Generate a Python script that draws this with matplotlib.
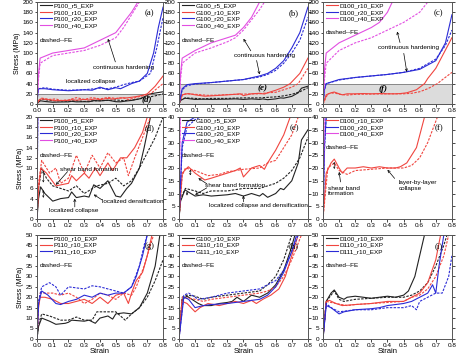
import matplotlib
matplotlib.use('Agg')
import matplotlib.pyplot as plt
from matplotlib.patches import Rectangle

# ---- P100 series (panels a, d) ----
p_r5_x = [0, 0.01, 0.023, 0.05, 0.1, 0.15, 0.2, 0.22, 0.25, 0.3, 0.33, 0.36, 0.4, 0.45, 0.5, 0.53, 0.57, 0.6, 0.65, 0.68, 0.72, 0.76, 0.8]
p_r5_y = [0, 4, 6.3, 5, 3.5, 4, 4.2, 5.3, 4.2, 4.5, 4.3, 6.7, 6, 7.5, 4.5, 4.3, 6, 7, 10, 14, 20, 22, 24]
p_r5_fe_x = [0, 0.01, 0.03, 0.06, 0.1, 0.15, 0.2, 0.25, 0.3, 0.38, 0.45, 0.5, 0.55, 0.6, 0.65, 0.7, 0.75, 0.8]
p_r5_fe_y = [0, 6, 10, 8, 6.5, 6, 5.5, 6.5, 5, 6.5, 7, 8, 6.5, 7.5, 10, 13, 16, 20]
p_r10_x = [0, 0.01, 0.025, 0.06, 0.12, 0.2, 0.22, 0.25, 0.3, 0.33, 0.37, 0.4, 0.45, 0.48, 0.53, 0.57, 0.62, 0.67, 0.7, 0.75, 0.8]
p_r10_y = [0, 6, 10, 9, 6.5, 7, 8.5, 7.5, 9, 8, 10, 8.5, 11, 9.5, 12, 12, 14, 17, 20, 35, 55]
p_r10_fe_x = [0, 0.01, 0.03, 0.08, 0.12, 0.15, 0.2, 0.25, 0.3, 0.35, 0.4, 0.45, 0.5, 0.55, 0.58, 0.62, 0.67, 0.72, 0.76, 0.8]
p_r10_fe_y = [0, 7, 11.5, 9, 10, 7, 8, 12.5, 9, 12.5, 10, 13, 11, 12, 8.5, 12, 16, 20, 30, 40]
p_r20_x = [0, 0.005, 0.01, 0.05, 0.1, 0.2, 0.3, 0.35, 0.4, 0.45, 0.5, 0.53, 0.6, 0.65, 0.7, 0.74, 0.77, 0.8]
p_r20_y = [0, 20, 30, 30, 28, 26, 28, 27, 33, 28, 32, 30, 40, 45, 60, 100, 150, 190]
p_r20_fe_x = [0, 0.005, 0.01, 0.05, 0.1, 0.2, 0.3, 0.4, 0.45, 0.5, 0.55, 0.6, 0.65, 0.72, 0.76, 0.8]
p_r20_fe_y = [0, 20, 30, 32, 29, 27, 28, 31, 30, 33, 38, 42, 45, 60, 110, 170]
p_r40_x = [0, 0.01, 0.02, 0.1, 0.2, 0.3, 0.4, 0.5, 0.55, 0.6, 0.64]
p_r40_y = [0, 60, 90, 100, 105, 110, 125, 140, 160, 180, 200]
p_r40_fe_x = [0, 0.01, 0.02, 0.1, 0.2, 0.3, 0.4, 0.5, 0.55, 0.6, 0.65]
p_r40_fe_y = [0, 50, 80, 95, 100, 105, 115, 130, 150, 175, 200]

# ---- G100 series (panels b, e) ----
g_r5_x = [0, 0.01, 0.037, 0.1, 0.15, 0.2, 0.3, 0.35, 0.4, 0.45, 0.5, 0.52, 0.55, 0.6, 0.63, 0.65, 0.7, 0.74, 0.76, 0.8]
g_r5_y = [0, 7, 11.4, 9, 9.5, 9, 9.5, 10, 9, 10, 9, 10, 8.5, 10, 12, 11.5, 15, 22, 31, 35]
g_r5_fe_x = [0, 0.01, 0.04, 0.1, 0.15, 0.2, 0.3, 0.4, 0.5, 0.55, 0.6, 0.65, 0.7, 0.75, 0.8]
g_r5_fe_y = [0, 8, 12, 11, 10, 11, 11, 12, 12, 13, 14, 16, 19, 24, 32]
g_r10_x = [0, 0.02, 0.058, 0.1, 0.16, 0.2, 0.3, 0.35, 0.38, 0.4, 0.45, 0.5, 0.53, 0.55, 0.6, 0.65, 0.69, 0.75, 0.8]
g_r10_y = [0, 18, 20.5, 18, 15.3, 16, 18, 19, 20, 16.5, 20, 21, 19.5, 22, 27, 33, 40, 60, 90]
g_r10_fe_x = [0, 0.02, 0.04, 0.1, 0.18, 0.25, 0.3, 0.4, 0.5, 0.55, 0.6, 0.65, 0.7, 0.74, 0.8]
g_r10_fe_y = [0, 17, 20, 19, 17, 17.5, 18.5, 19.5, 20, 22, 23, 28, 33, 40, 70]
g_r20_x = [0, 0.02, 0.05, 0.1, 0.2, 0.3, 0.4, 0.5, 0.55, 0.6, 0.65, 0.7, 0.75, 0.8]
g_r20_y = [0, 30, 38, 40, 42, 45, 48, 55, 60, 70, 85, 110, 140, 190]
g_r20_fe_x = [0, 0.02, 0.05, 0.1, 0.2, 0.3, 0.4, 0.5, 0.55, 0.6, 0.65, 0.7, 0.75, 0.8]
g_r20_fe_y = [0, 28, 36, 39, 42, 45, 48, 53, 58, 66, 80, 100, 125, 170]
g_r40_x = [0, 0.01, 0.02, 0.1, 0.2, 0.3, 0.35, 0.4, 0.45, 0.5]
g_r40_y = [0, 60, 90, 105, 120, 130, 135, 150, 170, 200]
g_r40_fe_x = [0, 0.01, 0.02, 0.1, 0.2, 0.3, 0.35, 0.4, 0.45, 0.5, 0.53]
g_r40_fe_y = [0, 50, 80, 100, 110, 122, 130, 145, 165, 185, 200]

# ---- D100 series (panels c, f) ----
d_r10_x = [0, 0.02, 0.05, 0.07, 0.1, 0.12, 0.15, 0.2, 0.25, 0.3, 0.35, 0.4, 0.45, 0.48, 0.52, 0.58, 0.63, 0.65, 0.7, 0.75, 0.8]
d_r10_y = [0, 18, 22, 23.5, 20, 18, 20, 20, 20.5, 20, 20.5, 20, 20, 20.5, 22, 28, 40, 50, 70, 100, 130]
d_r10_fe_x = [0, 0.03, 0.07, 0.1, 0.15, 0.2, 0.3, 0.4, 0.5, 0.55, 0.6, 0.65, 0.71, 0.75, 0.8]
d_r10_fe_y = [0, 20, 22, 19, 17.5, 19, 19.5, 20, 20, 21, 24, 30, 40, 50, 62]
d_r20_x = [0, 0.01, 0.02, 0.1, 0.2, 0.3, 0.4, 0.5, 0.6, 0.7, 0.76, 0.8]
d_r20_y = [0, 30, 40, 48, 52, 55, 58, 62, 68, 85, 120, 175]
d_r20_fe_x = [0, 0.01, 0.02, 0.1, 0.2, 0.3, 0.4, 0.5, 0.6, 0.7, 0.76, 0.8]
d_r20_fe_y = [0, 28, 40, 47, 52, 55, 58, 62, 70, 88, 115, 145]
d_r40_x = [0, 0.01, 0.02, 0.1, 0.2, 0.3, 0.35, 0.4, 0.43]
d_r40_y = [0, 70, 100, 120, 135, 150, 160, 180, 200]
d_r40_fe_x = [0, 0.01, 0.02, 0.1, 0.2, 0.3, 0.4, 0.5, 0.6, 0.65]
d_r40_fe_y = [0, 50, 80, 105, 120, 130, 145, 160, 180, 200]

# ---- orientation series, r10 (panels g, h, i) ----
p100_x = [0, 0.01, 0.03, 0.08, 0.12, 0.18, 0.2, 0.22, 0.3, 0.33, 0.37, 0.4, 0.45, 0.48, 0.5, 0.55, 0.6, 0.65, 0.7, 0.75, 0.78]
p100_y = [0, 6, 10, 8.5, 7, 7.5, 8, 9, 8.5, 9, 7.5, 10, 11, 9.5, 12, 12.5, 12, 15, 22, 35, 50]
p100_fe_x = [0, 0.01, 0.03, 0.08, 0.15, 0.2, 0.25, 0.3, 0.35, 0.38, 0.45, 0.5, 0.56, 0.6, 0.65, 0.7, 0.75, 0.8]
p100_fe_y = [0, 7, 12, 11, 9, 9, 10.5, 9, 9, 13, 13, 13, 9, 12, 15, 20, 28, 38]
p110_x = [0, 0.01, 0.02, 0.05, 0.1, 0.15, 0.2, 0.25, 0.3, 0.35, 0.4, 0.45, 0.5, 0.55, 0.58, 0.6, 0.63, 0.67, 0.7, 0.73]
p110_y = [0, 15, 20, 20, 19, 17, 17, 18, 19, 17, 20, 17, 21, 22, 17, 22, 28, 32, 40, 50]
p110_fe_x = [0, 0.01, 0.02, 0.1, 0.15, 0.2, 0.25, 0.3, 0.35, 0.4, 0.45, 0.5, 0.55, 0.6, 0.63, 0.68, 0.72, 0.74]
p110_fe_y = [0, 16, 22, 22, 21, 22, 20, 17, 19, 22, 21, 19, 22, 21, 25, 35, 45, 50]
p111_x = [0, 0.01, 0.03, 0.07, 0.12, 0.15, 0.2, 0.25, 0.3, 0.35, 0.4, 0.45, 0.5, 0.55, 0.6, 0.63, 0.67, 0.7]
p111_y = [0, 17, 23, 21, 17, 16.5, 18, 19, 21, 20, 22, 21, 22, 22, 25, 30, 40, 50]
p111_fe_x = [0, 0.01, 0.03, 0.08, 0.12, 0.15, 0.2, 0.3, 0.35, 0.4, 0.45, 0.5, 0.55, 0.6, 0.65, 0.68, 0.7]
p111_fe_y = [0, 18, 25, 27, 25, 21, 25, 24, 25.5, 25, 24, 23, 22, 25, 35, 45, 50]

g100_x = [0, 0.02, 0.05, 0.08, 0.12, 0.15, 0.2, 0.25, 0.3, 0.33, 0.36, 0.4, 0.45, 0.5, 0.55, 0.6, 0.65, 0.69, 0.72]
g100_y = [0, 19, 20.5, 19, 17, 16, 16, 17, 17.5, 18, 20, 18, 21, 20, 22, 26, 33, 42, 50]
g100_fe_x = [0, 0.02, 0.05, 0.1, 0.15, 0.2, 0.3, 0.4, 0.5, 0.55, 0.6, 0.65, 0.7]
g100_fe_y = [0, 20, 21, 20.5, 19, 20, 21, 22, 23, 26, 30, 38, 50]
g110_x = [0, 0.02, 0.05, 0.1, 0.13, 0.18, 0.25, 0.3, 0.35, 0.4, 0.45, 0.48, 0.52, 0.57, 0.62, 0.66, 0.7, 0.74]
g110_y = [0, 18, 17, 13, 15, 17, 16, 17, 18, 17, 18.5, 17, 19, 21, 24, 30, 40, 50]
g110_fe_x = [0, 0.02, 0.1, 0.15, 0.2, 0.3, 0.4, 0.5, 0.55, 0.6, 0.65, 0.7, 0.76]
g110_fe_y = [0, 20, 19, 18, 19, 20, 21, 22, 23, 25, 30, 38, 50]
g111_x = [0, 0.03, 0.06, 0.1, 0.15, 0.2, 0.3, 0.4, 0.5, 0.55, 0.6, 0.65, 0.7, 0.73]
g111_y = [0, 20, 19, 15, 16, 16.5, 17, 18, 19, 21, 25, 32, 42, 50]
g111_fe_x = [0, 0.03, 0.06, 0.12, 0.2, 0.3, 0.4, 0.5, 0.55, 0.6, 0.65, 0.7, 0.74]
g111_fe_y = [0, 21, 22, 19, 20, 22, 23, 24, 26, 28, 33, 42, 50]

d100_x = [0, 0.02, 0.05, 0.07, 0.1, 0.13, 0.15, 0.2, 0.25, 0.3, 0.35, 0.4, 0.45, 0.5, 0.53, 0.57, 0.6, 0.63]
d100_y = [0, 18, 22, 23.5, 20, 19, 20, 20.5, 20, 19.5, 20, 20.5, 20, 21, 23, 30, 40, 50]
d100_fe_x = [0, 0.02, 0.05, 0.07, 0.1, 0.13, 0.2, 0.3, 0.4, 0.5, 0.55, 0.6, 0.65, 0.7, 0.75, 0.77]
d100_fe_y = [0, 18, 21, 23, 19, 18, 19, 19.5, 20, 20, 21, 23, 27, 35, 45, 50]
d110_x = [0, 0.02, 0.04, 0.08, 0.12, 0.2, 0.3, 0.4, 0.5, 0.55, 0.6, 0.65, 0.7, 0.73]
d110_y = [0, 18, 18.5, 17, 16, 16.5, 17, 18, 18, 20, 22, 27, 38, 50]
d110_fe_x = [0, 0.02, 0.08, 0.15, 0.2, 0.3, 0.4, 0.5, 0.55, 0.6, 0.65, 0.7, 0.75, 0.78]
d110_fe_y = [0, 18, 17, 16, 16.5, 17, 17.5, 18, 20, 21, 24, 30, 40, 50]
d111_x = [0, 0.02, 0.05, 0.1, 0.13, 0.2, 0.3, 0.35, 0.4, 0.45, 0.5, 0.55, 0.6, 0.65, 0.68, 0.7, 0.72, 0.75]
d111_y = [0, 16, 15, 12, 13, 14, 14.5, 15, 16, 16.5, 17, 18, 20, 22, 26, 22, 35, 50]
d111_fe_x = [0, 0.02, 0.05, 0.1, 0.15, 0.2, 0.3, 0.4, 0.5, 0.55, 0.58, 0.6, 0.65, 0.7, 0.74, 0.78, 0.8]
d111_fe_y = [0, 17, 15, 13, 13.5, 14, 14, 15, 15, 16, 14, 18, 20, 22, 22, 30, 40]

BLACK = '#222222'
RED = '#f0453f'
BLUE = '#2b2bd6'
MAG = '#e24ee2'
FS = 4.6

plt.rcParams['font.family'] = 'Liberation Sans'
fig = plt.figure(figsize=(4.74, 3.59), dpi=100)

lefts = [0.078, 0.3776, 0.6814]
widths = [0.266, 0.272, 0.272]
bottoms = [0.7103, 0.39, 0.056]
heights = [0.284, 0.284, 0.29]

axes = {}
labels = 'abcdefghi'
for r in range(3):
    for c in range(3):
        ax = fig.add_axes([lefts[c], bottoms[r], widths[c], heights[r]])
        axes[labels[3 * r + c]] = ax


def style(ax, ymax, ystep, tag, xlabel=False, ylabel=False):
    ax.set_xlim(0, 0.8)
    ax.set_ylim(0, ymax)
    ax.set_xticks([i / 10 for i in range(9)])
    ax.set_yticks(range(0, ymax + 1, ystep))
    ax.tick_params(labelsize=FS, length=1.8, width=0.5, pad=1)
    ax.tick_params(right=True, direction='out')
    for s in ax.spines.values():
        s.set_linewidth(0.7)
        s.set_color('#555555')
    ax.text(0.93, 0.93, '(%s)' % tag, transform=ax.transAxes, ha='right', va='top',
            fontsize=6.2, family='Liberation Serif')
    if ylabel:
        ax.set_ylabel('Stress (MPa)', fontsize=5, labelpad=1)
    if xlabel:
        ax.set_xlabel('Strain', fontsize=5.5, labelpad=0.5)


def draw(ax, series, names):
    handles = []
    for (x, y, xf, yf, col), nm in zip(series, names):
        h, = ax.plot(x, y, color=col, lw=0.8, label=nm)
        ax.plot(xf, yf, color=col, lw=0.8, ls=(0, (2.2, 1.2)))
        handles.append(h)
    ax.legend(handles=handles, loc='upper left', bbox_to_anchor=(0.0, 1.02),
              frameon=False, fontsize=FS, handlelength=1.8, handletextpad=0.35,
              labelspacing=0.15, borderaxespad=0.1)
    n = len(names)
    ax.text(0.02, 1.0 - 0.075 * n - 0.05, 'dashed--FE', transform=ax.transAxes,
            fontsize=FS, va='top')


p_series = [(p_r5_x, p_r5_y, p_r5_fe_x, p_r5_fe_y, BLACK),
            (p_r10_x, p_r10_y, p_r10_fe_x, p_r10_fe_y, RED),
            (p_r20_x, p_r20_y, p_r20_fe_x, p_r20_fe_y, BLUE),
            (p_r40_x, p_r40_y, p_r40_fe_x, p_r40_fe_y, MAG)]
p_names = ['P100_r5_EXP', 'P100_r10_EXP', 'P100_r20_EXP', 'P100_r40_EXP']
g_series = [(g_r5_x, g_r5_y, g_r5_fe_x, g_r5_fe_y, BLACK),
            (g_r10_x, g_r10_y, g_r10_fe_x, g_r10_fe_y, RED),
            (g_r20_x, g_r20_y, g_r20_fe_x, g_r20_fe_y, BLUE),
            (g_r40_x, g_r40_y, g_r40_fe_x, g_r40_fe_y, MAG)]
g_names = ['G100_r5_EXP', 'G100_r10_EXP', 'G100_r20_EXP', 'G100_r40_EXP']
d_series = [(d_r10_x, d_r10_y, d_r10_fe_x, d_r10_fe_y, RED),
            (d_r20_x, d_r20_y, d_r20_fe_x, d_r20_fe_y, BLUE),
            (d_r40_x, d_r40_y, d_r40_fe_x, d_r40_fe_y, MAG)]
d_names = ['D100_r10_EXP', 'D100_r20_EXP', 'D100_r40_EXP']

# row 1 with grey zoom boxes
for tag, ser, nm, box, boxlab, bx in [('a', p_series, p_names, 20, '(d)', 0.7),
                                      ('b', g_series, g_names, 40, '(e)', 0.52),
                                      ('c', d_series, d_names, 40, '(f)', 0.37)]:
    ax = axes[tag]
    ax.add_patch(Rectangle((0, 0), 0.8, box, facecolor='#dcdcdc', edgecolor='#777777', lw=0.6, zorder=0))
    draw(ax, ser, nm)
    style(ax, 200, 20, tag, ylabel=(tag == 'a'))
    ax.text(bx, box - 2, boxlab, fontsize=6.5, style='italic', weight='bold',
            family='Liberation Serif', ha='center', va='top')

# row 2 zoomed
draw(axes['d'], p_series, p_names)
style(axes['d'], 20, 2, 'd', ylabel=True)
draw(axes['e'], g_series, g_names)
style(axes['e'], 40, 5, 'e')
draw(axes['f'], d_series, d_names)
style(axes['f'], 40, 5, 'f')

# row 3 orientations
draw(axes['g'], [(p100_x, p100_y, p100_fe_x, p100_fe_y, BLACK),
                 (p110_x, p110_y, p110_fe_x, p110_fe_y, RED),
                 (p111_x, p111_y, p111_fe_x, p111_fe_y, BLUE)],
     ['P100_r10_EXP', 'P110_r10_EXP', 'P111_r10_EXP'])
style(axes['g'], 50, 5, 'g', xlabel=True, ylabel=True)
draw(axes['h'], [(g100_x, g100_y, g100_fe_x, g100_fe_y, BLACK),
                 (g110_x, g110_y, g110_fe_x, g110_fe_y, RED),
                 (g111_x, g111_y, g111_fe_x, g111_fe_y, BLUE)],
     ['G100_r10_EXP', 'G110_r10_EXP', 'G111_r10_EXP'])
style(axes['h'], 50, 5, 'h', xlabel=True)
draw(axes['i'], [(d100_x, d100_y, d100_fe_x, d100_fe_y, BLACK),
                 (d110_x, d110_y, d110_fe_x, d110_fe_y, RED),
                 (d111_x, d111_y, d111_fe_x, d111_fe_y, BLUE)],
     ['D100_r10_EXP', 'D110_r10_EXP', 'D111_r10_EXP'])
style(axes['i'], 50, 5, 'i', xlabel=True)

# annotations
ap = dict(arrowstyle='->', lw=0.5, color='black', shrinkA=1, shrinkB=0, mutation_scale=4)
dbl = dict(arrowstyle='<->', lw=0.4, mutation_scale=3)
ax = axes['a']
ax.text(0.55, 72, 'continuous hardening', fontsize=FS, ha='center', va='center')
ax.annotate('', xy=(0.45, 128), xytext=(0.5, 80), arrowprops=ap)
ax.text(0.34, 45, 'localized collapse', fontsize=FS, ha='center', va='center')
ax = axes['b']
ax.text(0.53, 95, 'continuous hardening', fontsize=FS, ha='center', va='center')
ax.annotate('', xy=(0.4, 128), xytext=(0.45, 102), arrowprops=ap)
ax.annotate('', xy=(0.5, 58), xytext=(0.48, 88), arrowprops=ap)
ax = axes['c']
ax.text(0.53, 110, 'continuous hardening', fontsize=FS, ha='center', va='center')
ax.annotate('', xy=(0.46, 142), xytext=(0.48, 118), arrowprops=ap)
ax.annotate('', xy=(0.52, 63), xytext=(0.5, 102), arrowprops=ap)

ax = axes['d']
ax.text(0.33, 9.8, 'shear band fomation', fontsize=FS, ha='center', va='center')
ax.annotate('', xy=(0.12, 6.7), xytext=(0.2, 9.5), arrowprops=ap)
ax.text(0.61, 3.4, 'localized densification', fontsize=FS, ha='center', va='center')
ax.annotate('', xy=(0.36, 4.8), xytext=(0.42, 3.6), arrowprops=ap)
ax.text(0.23, 1.6, 'localized collapse', fontsize=FS, ha='center', va='center')
ax.annotate('', xy=(0.24, 4.0), xytext=(0.24, 2.1), arrowprops=ap)
ax.annotate('', xy=(0.04, 10), xytext=(0.04, 6.6), arrowprops=dbl)
ax.annotate('', xy=(0.04, 6.2), xytext=(0.04, 3.6), arrowprops=dbl)

ax = axes['e']
ax.text(0.35, 13, 'shear band formation', fontsize=FS, ha='center', va='center')
ax.annotate('', xy=(0.12, 16), xytext=(0.18, 13.5), arrowprops=ap)
ax.annotate('', xy=(0.1, 9.5), xytext=(0.18, 12.5), arrowprops=ap)
ax.text(0.49, 5.2, 'localized collapse and densification', fontsize=FS, ha='center', va='center')
ax.annotate('', xy=(0.4, 9.2), xytext=(0.4, 6.2), arrowprops=ap)
ax.annotate('', xy=(0.07, 20.5), xytext=(0.07, 16), arrowprops=dbl)
ax.annotate('', xy=(0.05, 11.4), xytext=(0.05, 8.5), arrowprops=dbl)

ax = axes['f']
ax.text(0.03, 11, 'shear band\nformation', fontsize=FS, ha='left', va='center', linespacing=1.2)
ax.annotate('', xy=(0.1, 18.5), xytext=(0.11, 14), arrowprops=ap)
ax.text(0.47, 13, 'layer-by-layer\ncollapse', fontsize=FS, ha='left', va='center', linespacing=1.2)
ax.annotate('', xy=(0.4, 19.3), xytext=(0.45, 15.5), arrowprops=ap)
ax.annotate('', xy=(0.07, 23.5), xytext=(0.07, 18.5), arrowprops=dbl)

plt.savefig('out.png', dpi=100)
plt.close()
